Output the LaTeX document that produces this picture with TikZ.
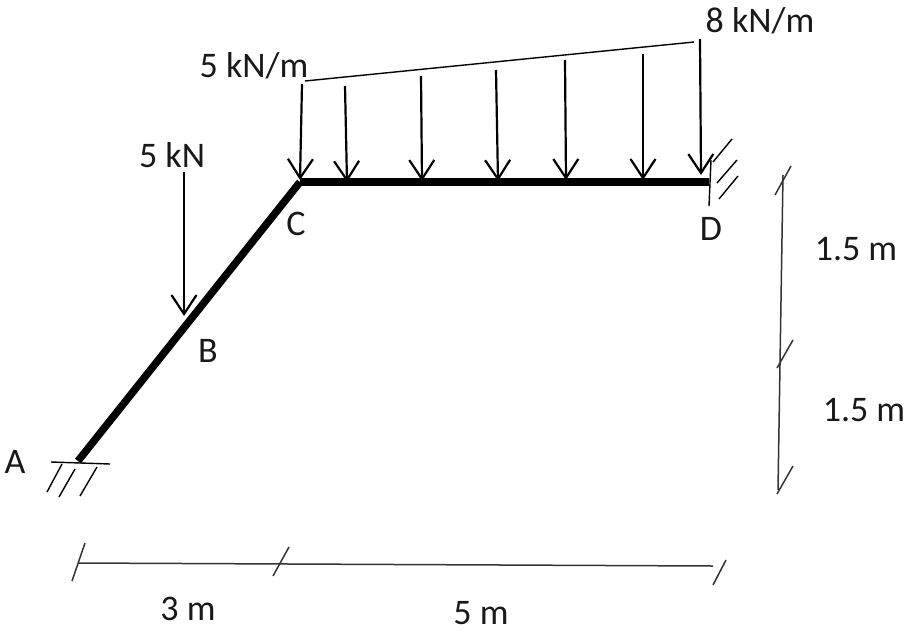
\documentclass[tikz,border=0pt]{standalone}
\usepackage{fontspec}
\setmainfont{Carlito}
\usetikzlibrary{arrows.meta}

\tikzstyle{label} = [font=\fontsize{36}{38}\selectfont, inner sep=0pt, text=black!90]
\tikzstyle{member} = [line width=7.5pt]
\tikzstyle{thin line} = [line width=1.4pt]
\tikzstyle{dim line} = [line width=1.5pt, black!80]
\tikzstyle{load} = [line width=2.2pt, -{Straight Barb[length=19pt,width=25pt,line width=2.2pt]}]

\begin{document}
\begin{tikzpicture}[x=1pt,y=-1pt]
    \useasboundingbox (0,0) rectangle (907,632);

    % Nodes
    \coordinate (A) at (78,461);
    \coordinate (C) at (300,182);
    \coordinate (D) at (709,182);
    \node(labelA) [label] at (15,462) {A};
    \node(labelB) [label] at (208,351) {B};
    \node(labelC) [label] at (296,224) {C};
    \node(labelD) [label] at (711,229) {D};
    \node(force) [label] at (172,155) {5 kN};
    \node(loadleft) [label] at (254,66) {5 kN/m};
    \node(loadright) [label] at (760,21) {8 kN/m};
    \node(dimone) [label] at (856,249) {1.5 m};
    \node(dimtwo) [label] at (864,410) {1.5 m};
    \node(dimthree) [label] at (188,609) {3 m};
    \node(dimfive) [label] at (481,613) {5 m};

    % Frame
    \draw [member] (A) -- (C);
    \draw [member] (C) -- (D);

    % Supports
    \draw [thin line] (51,462) -- (110,464);
    \draw [thin line] (62,464) -- (47,492);
    \draw [thin line] (75,469) -- (59,497);
    \draw [thin line] (97,467) -- (80,496);
    \draw [thin line] (711,160) -- (709,206);
    \draw [thin line] (732,139) -- (713,162);
    \draw [thin line] (737,160) -- (717,183);
    \draw [thin line] (738,176) -- (719,199);

    % Arrows
    \draw [load] (184,172) -- (184,316);
    \draw [thin line] (305,81) -- (694,42);
    \draw [load] (302,84) -- (300,180);
    \draw [load] (345,86) -- (347,182);
    \draw [load] (421,76) -- (422,181);
    \draw [load] (496,70) -- (498,181);
    \draw [load] (565,60) -- (566,180);
    \draw [load] (643,54) -- (643,180);
    \draw [load] (700,39) -- (701,175);

    % Dimensions
    \draw [dim line] (783,175) -- (778,490);
    \draw [dim line] (791,166) -- (775,195);
    \draw [dim line] (793,340) -- (777,368);
    \draw [dim line] (793,466) -- (777,494);
    \draw [dim line] (78,563) -- (713,566);
    \draw [dim line] (85,543) -- (72,581);
    \draw [dim line] (289,547) -- (273,576);
    \draw [dim line] (726,560) -- (713,585);

\end{tikzpicture}
\end{document}
